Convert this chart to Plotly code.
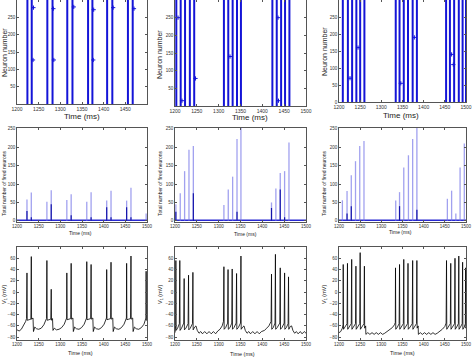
import plotly.graph_objects as go

W, H = 474, 363

# ---------------- data ----------------
# Raster (top row): burst times (ms), each neuron 0..300 fires
raster1_t = [1224, 1234, 1270, 1282, 1316, 1328, 1364, 1374, 1408, 1420, 1456, 1467]
raster2_t = [1203, 1213, 1223, 1234, 1244, 1312, 1322, 1332, 1342, 1351, 1423, 1433, 1443, 1452, 1462]
raster3_t = [1209, 1221, 1231, 1241, 1250, 1260, 1334, 1343, 1353, 1363, 1374, 1384, 1453, 1462, 1472, 1483, 1492, 1500]
neuron_range = [0, 300]
# scattered extra spikes (time, neuron)
extra1_t = [1238, 1284, 1331, 1377, 1422, 1470, 1237, 1285, 1376]
extra1_n = [278, 275, 280, 272, 278, 275, 127, 127, 127]
extra2_t = [1247, 1207, 1216, 1326, 1436, 1437]
extra2_n = [78, 250, 15, 140, 250, 15]
extra3_t = [1226, 1245, 1346, 1378, 1466, 1470]
extra3_n = [70, 160, 55, 190, 140, 110]

# Histograms (middle row): total number of fired neurons
hist1_t = [1223, 1233, 1269, 1279, 1315, 1325, 1361, 1371, 1407, 1417, 1453, 1463, 1498]
hist1_h = [58, 77, 52, 83, 57, 72, 52, 78, 55, 82, 55, 90, 20]
hist1_dt = [1223, 1233, 1279, 1325, 1371, 1407, 1417, 1453, 1463]
hist1_dh = [27, 10, 45, 15, 10, 37, 10, 37, 10]

hist2_t = [1202, 1212, 1222, 1232, 1242, 1312, 1322, 1332, 1342, 1351, 1421, 1431, 1441, 1451, 1461]
hist2_h = [45, 75, 135, 193, 203, 43, 85, 120, 222, 252, 50, 88, 130, 135, 213]
hist2_dt = [1202, 1242, 1342, 1421, 1441, 1451]
hist2_dh = [25, 75, 25, 35, 85, 10]

hist3_t = [1208, 1219, 1229, 1239, 1249, 1259, 1334, 1343, 1353, 1364, 1374, 1384, 1456, 1466, 1476, 1486, 1496]
hist3_h = [56, 81, 124, 162, 203, 217, 55, 78, 145, 178, 222, 252, 60, 82, 20, 145, 210]
hist3_dt = [1219, 1229, 1343, 1384]
hist3_dh = [20, 40, 40, 30]

hist_base_t = [1200, 1500]
hist_base_h = [2, 2]

# Voltage traces (bottom row)
v1_t = [1200, 1205, 1210, 1215, 1220, 1222, 1223, 1223.6, 1228, 1232, 1233, 1233.6, 1237, 1238, 1241, 1245,
        1250, 1256, 1262, 1266, 1268, 1269, 1269.6, 1274, 1278, 1279, 1279.6, 1282, 1283, 1286, 1291, 1297,
        1303, 1309, 1313, 1314.5, 1315, 1315.6, 1320, 1324, 1325, 1325.6, 1329, 1330, 1333, 1337, 1343,
        1349, 1355, 1359, 1360.5, 1361, 1361.6, 1366, 1370, 1371, 1371.6, 1375, 1376, 1379, 1383, 1389,
        1395, 1401, 1405, 1406.5, 1407, 1407.6, 1412, 1416, 1417, 1417.6, 1421, 1422, 1425, 1429, 1435,
        1441, 1447, 1451, 1452.5, 1453, 1453.6, 1458, 1462, 1463, 1463.6, 1467, 1468, 1471, 1475, 1481,
        1487, 1493, 1496, 1497.5, 1498, 1498.6, 1500]
v1_v = [-67, -69, -66, -60, -52, -47, 34, -50, -49, -48, 63, -48, -46, -70, -62, -65,
        -66, -64, -58, -52, -47, 56, -50, -49, -48, 5, -50, -47, -68, -64, -67, -66,
        -63, -57, -50, -46, 34, -49, -48, -47, 51, -48, -46, -70, -62, -65, -66,
        -63, -57, -50, -46, 54, -49, -48, -47, 49, -48, -46, -70, -62, -65, -66,
        -63, -57, -50, -46, 40, -49, -48, -47, 53, -48, -46, -70, -62, -65, -66,
        -63, -57, -50, -46, 51, -49, -48, -47, 64, -48, -46, -70, -62, -65, -66,
        -63, -57, -50, -46, 37, -50, -49]

v2_t = [1200, 1201.5, 1202, 1202.6, 1206, 1210, 1211, 1211.6, 1215, 1220, 1221, 1221.6, 1225, 1230, 1231,
        1231.6, 1235, 1240, 1241, 1241.6, 1245, 1248, 1251, 1255, 1259, 1263, 1268, 1273, 1278, 1283,
        1288, 1293, 1298, 1303, 1308, 1311, 1312, 1312.6, 1316, 1320.5, 1321.5, 1322.1, 1326, 1330, 1331,
        1331.6, 1335, 1340, 1341, 1341.6, 1345, 1350, 1351, 1351.6, 1355, 1358, 1361, 1365, 1369, 1373,
        1378, 1383, 1388, 1393, 1398, 1405, 1410, 1415, 1420, 1421, 1421.6, 1425, 1429, 1430, 1430.6,
        1434, 1440, 1441, 1441.6, 1445, 1450, 1451, 1451.6, 1455, 1459, 1460, 1460.6, 1464, 1467, 1470,
        1474, 1478, 1482, 1487, 1491, 1496, 1500]
v2_v = [-72, -60, 56, -68, -64, -56, 56, -68, -64, -55, 24, -67, -64, -56, 30,
        -67, -64, -56, 35, -67, -62, -60, -68, -73, -70, -74, -70, -74, -70, -74,
        -70, -74, -69, -66, -60, -52, 45, -66, -63, -55, 40, -66, -63, -55, 41,
        -66, -63, -55, 33, -66, -63, -55, 64, -66, -62, -60, -68, -73, -70, -74,
        -70, -74, -70, -74, -70, -68, -64, -60, -52, 32, -66, -63, -55, 67, -66,
        -63, -55, 43, -66, -63, -55, 34, -66, -63, -56, 27, -66, -61, -60, -68,
        -73, -70, -74, -70, -74, -70, -73]

v3_t = [1200, 1204, 1208, 1209.5, 1210, 1210.6, 1214, 1219, 1220, 1220.6, 1224, 1229, 1230, 1230.6, 1234,
        1239, 1240, 1240.6, 1244, 1249, 1250, 1250.6, 1254, 1259, 1260, 1260.6, 1263, 1263.5, 1268, 1273,
        1278, 1283, 1288, 1293, 1298, 1303, 1308, 1314, 1320, 1326, 1331, 1333, 1333.5, 1334.1, 1338, 1342,
        1343, 1343.6, 1347, 1352, 1353, 1353.6, 1357, 1362, 1363, 1363.6, 1368, 1373, 1374, 1374.6, 1378,
        1383, 1384, 1384.6, 1387, 1387.5, 1392, 1397, 1402, 1407, 1412, 1417, 1422, 1427, 1432, 1438, 1444,
        1450, 1453, 1454, 1454.6, 1458, 1463, 1464, 1464.6, 1468, 1473, 1474, 1474.6, 1478, 1482, 1483,
        1483.6, 1487, 1491, 1492, 1492.6, 1496, 1498.5, 1499, 1499.6, 1500]
v3_v = [-72, -70, -64, -58, 49, -66, -62, -56, 51, -66, -62, -56, 58, -66, -62,
        -56, 46, -66, -62, -56, 70, -66, -62, -56, 46, -64, -60, -75, -72, -75,
        -72, -75, -72, -75, -72, -75, -73, -70, -67, -63, -58, -54, 43, -66, -62, -56,
        49, -66, -62, -56, 58, -66, -62, -56, 51, -66, -62, -56, 56, -66, -62,
        -56, 56, -64, -60, -75, -72, -75, -72, -75, -72, -75, -72, -75, -73, -70, -66,
        -61, -55, 56, -66, -62, -56, 51, -66, -62, -56, 60, -66, -62, -56, 64,
        -66, -62, -56, 53, -66, -62, -56, 43, -64, -62]

time_ticks = [1200, 1250, 1300, 1350, 1400, 1450, 1500]
neuron_ticks = [0, 50, 100, 150, 200, 250]
hist_ticks = [0, 50, 100, 150, 200, 250]
volt_ticks = [-80, -60, -40, -20, 0, 20, 40, 60]

# axis titles
raster_xtitle = "Time (ms)"
raster_ytitle = "Neuron number"
hist_xtitle = "Time (ms)"
hist_ytitle = "Total number of fired neurons"
volt_xtitle = "Time (ms)"
volt_ytitle = "V<sub>1</sub> (mV)"

# ---------------- layout helpers ----------------
FONT = "Liberation Sans"
col_px = [(17, 147), (175, 306), (339, 466)]
row1_px = [(0, 104), (0, 106), (0, 102)]
row2_px = (128, 222)
row3_px = (247, 340)

# title positions (px)
xt_row1 = [(82, 116), (250, 118), (401, 115)]
xt_row2 = [(80, 233), (245, 234), (400, 232)]
xt_row3 = [(80, 353), (242, 354), (402, 353)]
yt_x = [4, 160, 324]
yt_row1_y = [53, 55, 52]
yt_row2_y = 183
yt_row3_y = 295


def xdom(c):
    a, b = col_px[c]
    return [a / W, b / W]


def ydom(p):
    a, b = p
    return [1 - b / H, 1 - a / H]


fig = go.Figure()


def vseg(ts, lo, his):
    xs, ys = [], []
    for t, h in zip(ts, his):
        xs += [t, t, None]
        ys += [lo, h, None]
    return xs, ys


rasters = [raster1_t, raster2_t, raster3_t]
extras = [(extra1_t, extra1_n), (extra2_t, extra2_n), (extra3_t, extra3_n)]
hists = [(hist1_t, hist1_h, hist1_dt, hist1_dh), (hist2_t, hist2_h, hist2_dt, hist2_dh),
         (hist3_t, hist3_h, hist3_dt, hist3_dh)]
volts = [(v1_t, v1_v), (v2_t, v2_v), (v3_t, v3_v)]

layout = dict(width=W, height=H, margin=dict(l=0, r=0, t=0, b=0), autosize=False,
              paper_bgcolor="white", plot_bgcolor="white", showlegend=False,
              font=dict(family=FONT, color="#222"))

axis_common = dict(showline=True, mirror="ticks", linecolor="#555", linewidth=0.8,
                   ticks="inside", ticklen=2, tickcolor="#555", showgrid=False, zeroline=False,
                   automargin=False, ticklabeloverflow="allow",
                   tickfont=dict(size=4.5, family=FONT, color="#333"))

annotations = []


def add_title(text, x, y, size, angle=0):
    annotations.append(dict(text=text, x=x / W, y=1 - y / H, xref="paper", yref="paper",
                            showarrow=False, textangle=angle, xanchor="center", yanchor="middle",
                            font=dict(size=size, family=FONT, color="#222")))


idx = 0
for r in range(3):
    for c in range(3):
        idx += 1
        xa = "x" if idx == 1 else f"x{idx}"
        ya = "y" if idx == 1 else f"y{idx}"
        xkey = "xaxis" if idx == 1 else f"xaxis{idx}"
        ykey = "yaxis" if idx == 1 else f"yaxis{idx}"
        xax = dict(axis_common, domain=xdom(c), anchor=ya, range=[1200, 1500], tickvals=time_ticks)
        if r == 0:
            yd = ydom(row1_px[c])
            xs, ys = vseg(rasters[c], neuron_range[0], [neuron_range[1]] * len(rasters[c]))
            fig.add_trace(go.Scatter(x=xs, y=ys, mode="lines", xaxis=xa, yaxis=ya,
                                     line=dict(color="rgb(20,20,215)", width=2.0), hoverinfo="skip"))
            et, en = extras[c]
            fig.add_trace(go.Scatter(x=et, y=en, mode="markers", xaxis=xa, yaxis=ya,
                                     marker=dict(color="rgb(20,20,215)", size=3, symbol="cross-thin-open",
                                                 line=dict(width=1, color="rgb(20,20,215)"))))
            yax = dict(axis_common, domain=yd, anchor=xa, range=[0, 300],
                       tickvals=neuron_ticks if c == 2 else neuron_ticks[1:])
            xax["tickvals"] = time_ticks[:-1] if c == 0 else time_ticks
            xax["tickfont"] = dict(size=5, family=FONT, color="#333")
            add_title(raster_xtitle, *xt_row1[c], 8)
            add_title(raster_ytitle, yt_x[c], yt_row1_y[c], 7, -90)
        elif r == 1:
            yd = ydom(row2_px)
            ht, hh, dt, dh = hists[c]
            fig.add_trace(go.Scatter(x=hist_base_t, y=hist_base_h, mode="lines", xaxis=xa, yaxis=ya,
                                     line=dict(color="rgb(40,40,210)", width=1.5)))
            xs, ys = vseg(ht, 0, hh)
            fig.add_trace(go.Scatter(x=xs, y=ys, mode="lines", xaxis=xa, yaxis=ya,
                                     line=dict(color="rgba(110,110,230,0.65)", width=1.3), hoverinfo="skip"))
            xs, ys = vseg(dt, 0, dh)
            fig.add_trace(go.Scatter(x=xs, y=ys, mode="lines", xaxis=xa, yaxis=ya,
                                     line=dict(color="rgb(20,20,170)", width=1.2), hoverinfo="skip"))
            yax = dict(axis_common, domain=yd, anchor=xa, range=[-3, 252], tickvals=hist_ticks)
            add_title(hist_xtitle, *xt_row2[c], 5)
            add_title(hist_ytitle, yt_x[c], yt_row2_y, 5, -90)
        else:
            yd = ydom(row3_px)
            vt, vv = volts[c]
            fig.add_trace(go.Scatter(x=vt, y=vv, mode="lines", xaxis=xa, yaxis=ya,
                                     line=dict(color="black", width=0.8)))
            yax = dict(axis_common, domain=yd, anchor=xa, range=[-85, 80], tickvals=volt_ticks)
            add_title(volt_xtitle, *xt_row3[c], 5.5)
            add_title(volt_ytitle, yt_x[c], yt_row3_y, 5.5, -90)
        layout[xkey] = xax
        layout[ykey] = yax

layout["annotations"] = annotations
fig.update_layout(**layout)
fig.write_html("out.html", config={"displayModeBar": False},
               post_script="document.body.style.margin='0px';document.body.style.overflow='hidden';")
